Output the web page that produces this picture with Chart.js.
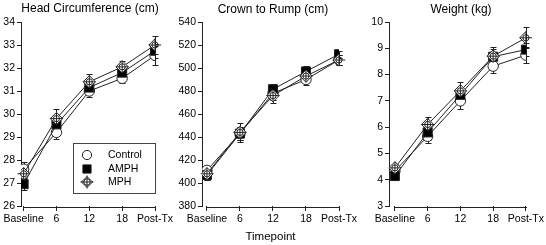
<!DOCTYPE html>
<html>
<head>
<meta charset="utf-8">
<script src="https://cdn.jsdelivr.net/npm/chart.js@4.4.0/dist/chart.umd.min.js"></script>
<style>
  body { margin: 0; background: #fff; }
  #wrap { position: relative; width: 546px; height: 245px; overflow: hidden; }
  canvas { position: absolute; top: 0; }
</style>
</head>
<body>
<div id="wrap">
  <canvas id="c1" width="182" height="245" style="left:0px"></canvas>
  <canvas id="c2" width="188" height="245" style="left:174px"></canvas>
  <canvas id="c3" width="184" height="245" style="left:362px"></canvas>
</div>
<script>
// ---- data ----
const timepoints = ['Baseline', '6', '12', '18', 'Post-Tx'];
const groups = ['Control', 'AMPH', 'MPH'];

// head circumference (cm)
const hcControl = [27.6, 29.2, 31.0, 31.55, 32.55];
const hcAmph = [26.95, 29.55, 31.15, 31.8, 32.75];
const hcMph = [27.4, 29.8, 31.4, 32.05, 33.0];
const hcControlErr = [0.3, 0.3, 0.25, 0.2, 0.4];
const hcAmphErr = [0.25, 0.3, 0.25, 0.2, 0.3];
const hcMphErr = [0.3, 0.4, 0.35, 0.25, 0.4];

// crown to rump (cm)
const crControl = [411, 443, 478, 490, 507];
const crAmph = [407, 443, 481.5, 497, 512];
const crMph = [408, 444, 476, 493, 507];
const crControlErr = [4, 6, 6, 5, 4];
const crAmphErr = [4, 6, 5, 5, 3];
const crMphErr = [5, 8, 6, 6, 4];

// weight (kg)
const wtControl = [4.33, 5.65, 7.0, 8.32, 8.74];
const wtAmph = [4.14, 5.8, 7.23, 8.68, 8.95];
const wtMph = [4.45, 6.1, 7.38, 8.7, 9.4];
const wtControlErr = [0.15, 0.25, 0.3, 0.25, 0.3];
const wtAmphErr = [0.15, 0.3, 0.3, 0.3, 0.25];
const wtMphErr = [0.15, 0.3, 0.35, 0.35, 0.4];

const FONT = '"Liberation Sans", Arial, sans-serif';
const INK = '#222';

function xy(arr) {
    return arr.map((v, i) => ({ x: i, y: v }));
}

// cross + ring inside the MPH diamond
function drawCrossMark(ctx, x, y, r) {
    ctx.beginPath();
    ctx.moveTo(x, y - r); ctx.lineTo(x, y + r);
    ctx.moveTo(x - r, y); ctx.lineTo(x + r, y);
    ctx.stroke();
    ctx.beginPath();
    ctx.arc(x, y, r * 0.5, 0, Math.PI * 2);
    ctx.stroke();
}

// ---- plugins ----
const errorBars = {
    id: 'errorBars',
    beforeDatasetsDraw(chart) {
        const ctx = chart.ctx;
        const ys = chart.scales.y;
        ctx.save();
        ctx.strokeStyle = INK;
        ctx.lineWidth = 1;
        chart.data.datasets.forEach((ds, di) => {
            const meta = chart.getDatasetMeta(di);
            meta.data.forEach((pt, i) => {
                const e = ds.err[i];
                const v = ds.data[i].y;
                const x = Math.round(pt.x) + 0.5;
                const y1 = Math.round(ys.getPixelForValue(v + e)) + 0.5;
                const y2 = Math.round(ys.getPixelForValue(v - e)) + 0.5;
                ctx.beginPath();
                ctx.moveTo(x, y1); ctx.lineTo(x, y2);
                ctx.moveTo(x - 3, y1); ctx.lineTo(x + 3, y1);
                ctx.moveTo(x - 3, y2); ctx.lineTo(x + 3, y2);
                ctx.stroke();
            });
        });
        ctx.restore();
    },
    afterDatasetsDraw(chart) {
        const ctx = chart.ctx;
        ctx.save();
        ctx.strokeStyle = INK;
        ctx.lineWidth = 1;
        chart.data.datasets.forEach((ds, di) => {
            if (!ds.crossMark) return;
            chart.getDatasetMeta(di).data.forEach(pt => {
                drawCrossMark(ctx, pt.x, pt.y, ds.pointRadius);
            });
        });
        ctx.restore();
    }
};

// x axis line runs only between the first and last timepoint
const detachedXAxis = {
    id: 'detachedXAxis',
    afterDraw(chart) {
        const ctx = chart.ctx;
        const xs = chart.scales.x;
        const y = Math.round(chart.chartArea.bottom) + 1.5;
        ctx.save();
        ctx.strokeStyle = INK;
        ctx.lineWidth = 1;
        ctx.beginPath();
        ctx.moveTo(Math.round(xs.getPixelForValue(0)), y);
        ctx.lineTo(Math.round(xs.getPixelForValue(timepoints.length - 1)) + 1, y);
        ctx.stroke();
        ctx.restore();
    }
};

const panelTitle = {
    id: 'panelTitle',
    afterDraw(chart, args, opts) {
        const ctx = chart.ctx;
        ctx.save();
        ctx.fillStyle = '#000';
        ctx.font = '12px ' + FONT;
        ctx.textAlign = 'center';
        ctx.textBaseline = 'middle';
        ctx.fillText(opts.text, opts.x, opts.y);
        ctx.restore();
    }
};

const boxLegend = {
    id: 'boxLegend',
    afterDraw(chart, args, opts) {
        if (!opts.show) return;
        const ctx = chart.ctx;
        ctx.save();
        ctx.strokeStyle = '#444';
        ctx.lineWidth = 1;
        ctx.strokeRect(73.5, 143.5, 82, 50);
        ctx.font = '10.5px ' + FONT;
        ctx.textBaseline = 'middle';
        const rows = [155, 169, 182];
        const radii = [4.6, 5.8, 5.5];
        chart.data.datasets.forEach((ds, i) => {
            const y = rows[i];
            ctx.fillStyle = ds.pointBackgroundColor;
            ctx.strokeStyle = INK;
            Chart.helpers.drawPoint(ctx, {
                pointStyle: ds.pointStyle,
                radius: radii[i],
                borderWidth: 1
            }, 87, y);
            if (ds.crossMark) drawCrossMark(ctx, 87, y, radii[i] + 1);
            ctx.fillStyle = '#000';
            ctx.fillText(ds.label, 108, y);
        });
        ctx.restore();
    }
};

// ---- panels ----
function makePanel(id, cfg) {
    const ctx = document.getElementById(id).getContext('2d');
    const tickFont = { family: FONT, size: 10.5 };
    return new Chart(ctx, {
        type: 'line',
        data: {
            datasets: [
                {
                    label: groups[0], data: xy(cfg.control), err: cfg.controlErr,
                    pointStyle: 'circle', pointRadius: 5.2, pointHoverRadius: 5.2,
                    pointBackgroundColor: '#fff', borderColor: INK, borderWidth: 1,
                    pointBorderWidth: 1, order: 3
                },
                {
                    label: groups[1], data: xy(cfg.amph), err: cfg.amphErr,
                    pointStyle: 'rect', pointRadius: 6.4, pointHoverRadius: 6.4,
                    pointBackgroundColor: '#000', borderColor: INK,
                    borderWidth: 1, order: 2
                },
                {
                    label: groups[2], data: xy(cfg.mph), err: cfg.mphErr,
                    pointStyle: 'rectRot', pointRadius: 6.2, pointHoverRadius: 6.2,
                    pointBackgroundColor: '#fff', borderColor: INK, borderWidth: 1,
                    crossMark: true, order: 1
                }
            ]
        },
        options: {
            responsive: false,
            animation: false,
            events: [],
            layout: { padding: { top: 22, right: cfg.padRight, left: 0, bottom: 0 } },
            plugins: {
                legend: { display: false },
                tooltip: { enabled: false },
                panelTitle: { text: cfg.title, x: cfg.titleX, y: cfg.titleY },
                boxLegend: { show: !!cfg.legend }
            },
            scales: {
                x: {
                    type: 'linear',
                    min: cfg.xMin, max: 4,
                    afterBuildTicks(scale) {
                        scale.ticks = timepoints.map((t, i) => ({ value: i }));
                    },
                    afterFit(scale) { scale.height = 39; },
                    ticks: {
                        color: '#000', font: tickFont, padding: 2, maxRotation: 0,
                        autoSkip: false,
                        callback: (v) => timepoints[v]
                    },
                    grid: { drawOnChartArea: false, drawTicks: true, tickLength: 5, color: INK, offset: false },
                    border: { display: false },
                    title: {
                        display: !!cfg.xTitle, text: cfg.xTitle || '',
                        color: '#000', font: { family: FONT, size: 11.5 }, padding: { top: 4, bottom: 1 }
                    }
                },
                y: {
                    min: cfg.yMin, max: cfg.yMax,
                    afterFit(scale) { scale.width = cfg.yWidth; },
                    ticks: { stepSize: cfg.yStep, color: '#000', font: tickFont, padding: 2 },
                    grid: { drawOnChartArea: false, drawTicks: true, tickLength: 4, color: INK },
                    border: { display: true, color: INK, width: 1 }
                }
            }
        },
        plugins: [errorBars, detachedXAxis, panelTitle, boxLegend]
    });
}

makePanel('c1', {
    title: 'Head Circumference (cm)', titleX: 90, titleY: 9,
    control: hcControl, amph: hcAmph, mph: hcMph,
    controlErr: hcControlErr, amphErr: hcAmphErr, mphErr: hcMphErr,
    yMin: 26, yMax: 34, yStep: 1, yWidth: 21, padRight: 27, xMin: -0.08,
    legend: true
});

makePanel('c2', {
    title: 'Crown to Rump (cm)', titleX: 99, titleY: 10,
    control: crControl, amph: crAmph, mph: crMph,
    controlErr: crControlErr, amphErr: crAmphErr, mphErr: crMphErr,
    yMin: 380, yMax: 540, yStep: 20, yWidth: 28, padRight: 23, xMin: -0.15,
    xTitle: 'Timepoint'
});

makePanel('c3', {
    title: 'Weight (kg)', titleX: 99, titleY: 10,
    control: wtControl, amph: wtAmph, mph: wtMph,
    controlErr: wtControlErr, amphErr: wtAmphErr, mphErr: wtMphErr,
    yMin: 3, yMax: 10, yStep: 1, yWidth: 27, padRight: 19, xMin: -0.18
});
</script>
</body>
</html>
